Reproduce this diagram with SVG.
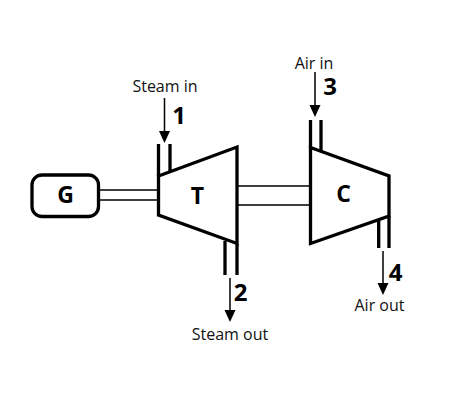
<svg xmlns="http://www.w3.org/2000/svg" width="450" height="418" viewBox="0 0 450 418">
<style>
.thick{fill:none;stroke:#000;stroke-width:3.300;stroke-linejoin:miter}
.thin{fill:none;stroke:#000;stroke-width:1.500}
.lab{font-family:"Open Sans","Noto Sans",sans-serif;font-size:16px;fill:#111;text-anchor:middle}
.num{font-family:"Open Sans","Noto Sans",sans-serif;font-size:24px;font-weight:700;fill:#000;text-anchor:middle}
.let{font-family:"Open Sans","Noto Sans",sans-serif;font-size:23px;font-weight:700;fill:#000;text-anchor:middle}
</style>
<defs><polygon id="h" points="-5.500,-12 5.500,-12 0,0" fill="#000"/></defs>
<rect width="450" height="418" fill="#fff"/>
<g id="connectors">
<path class="thin" d="M99 190H158M99 200H158M237 186H310M237 205H310"/>
<path class="thick" d="M158.500 144V176M170 144V171M310.500 120V148M321 120V152M225 241V275M237 244V275M378.700 220V248M389 216V248"/>
<path class="thin" d="M164.500 98V132M315 72V106M230 278V311M383 251V284"/>
<use href="#h" x="164.500" y="143"/>
<use href="#h" x="315" y="117"/>
<use href="#h" x="230" y="322"/>
<use href="#h" x="383" y="295"/>
</g>
<g id="G"><rect class="thick" x="32" y="175" width="66.500" height="41.500" rx="10"/><text class="let" x="65.500" y="203">G</text></g>
<g id="T"><path class="thick" d="M158.500 176L237 147V243.500L158.500 215Z"/><text class="let" x="197.500" y="204">T</text></g>
<g id="C"><path class="thick" d="M310.500 147.500L389 176V216L310.500 243.500Z"/><text class="let" x="343.500" y="202">C</text></g>
<g id="labels">
<text class="lab" x="165" y="92">Steam in</text>
<text class="lab" x="314" y="69">Air in</text>
<text class="lab" x="230" y="339.500">Steam out</text>
<text class="lab" x="379.500" y="310.500">Air out</text>
<text class="num" x="179" y="124">1</text>
<text class="num" x="330" y="95">3</text>
<text class="num" x="240.500" y="301">2</text>
<text class="num" x="395.500" y="281">4</text>
</g>
</svg>
